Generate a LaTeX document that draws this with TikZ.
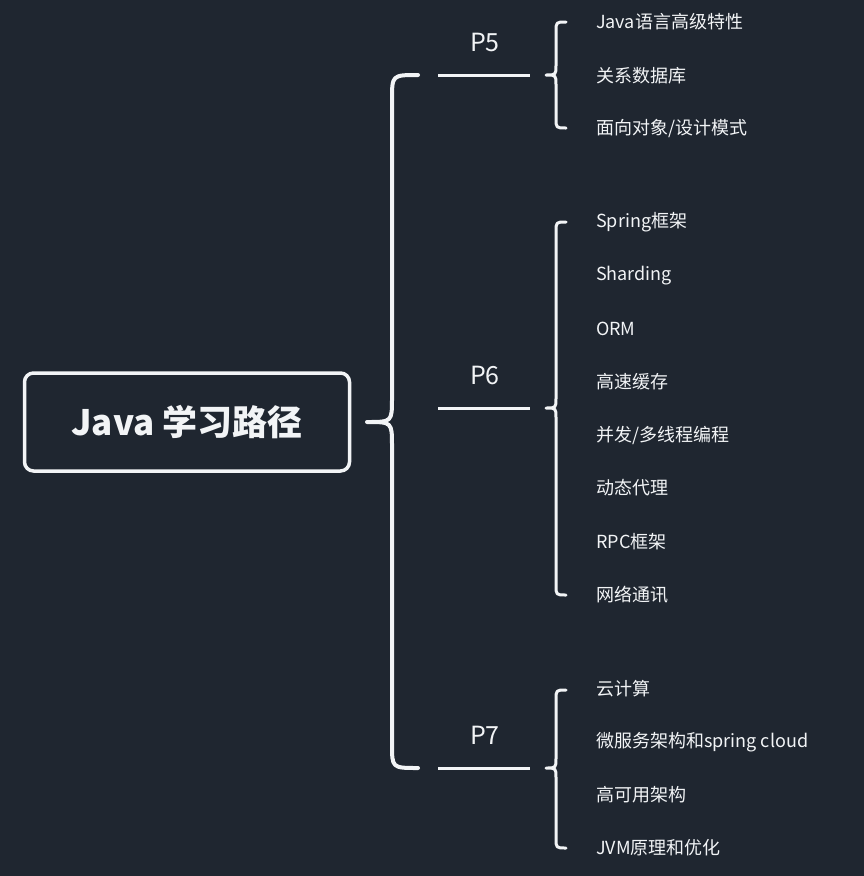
\documentclass[tikz,border=0pt]{standalone}
\usepackage{fontspec}
\setmainfont{Noto Sans CJK SC}
\definecolor{bg}{HTML}{1F2630}
\definecolor{fg}{HTML}{F2F4F6}
\newcommand{\mybrace}[5]{% x, top, bottom, tipy, width
  \draw[brc] ({#1+#5},#2) .. controls (#1,#2) .. (#1,{#2+#5}) -- (#1,{#4-#5}) .. controls (#1,#4) .. ({#1-#5},#4)
   .. controls (#1,#4) .. (#1,{#4+#5}) -- (#1,{#3-#5}) .. controls (#1,#3) .. ({#1+#5},#3);}
\begin{document}
\begin{tikzpicture}[x=1pt,y=-1pt,
  brc/.style={fg,line width=3pt,line cap=round,line join=round},
  item/.style={anchor=west,text=fg,font=\fontsize{18}{20}\selectfont,inner sep=0pt},
  lvl/.style={text=fg,font=\fontsize{25}{28}\selectfont,inner sep=0pt},
  bar/.style={fg,line width=3pt}]
\fill[bg] (0,0) rectangle (864,876);
\useasboundingbox (0,0) rectangle (864,876);
\node[draw=fg,line width=3.5pt,rounded corners=9pt,minimum width=325pt,minimum height=98pt,text=fg,font=\fontsize{35}{38}\selectfont] (root) at (187,422) {\textbf{Java 学习路径}};
\draw[brc,line width=4pt] (418,75) .. controls (392,75) .. (392,100) -- (392,398) .. controls (392,422) .. (367,422) .. controls (392,422) .. (392,446) -- (392,744) .. controls (392,768) .. (418,768);
\foreach \n/\y/\t in {a/75/P5,b/408/P6,c/768/P7}{
  \coordinate (\n1) at (438,\y); \coordinate (\n2) at (530,\y);
  \draw[bar] (\n1) -- (\n2);
  \node[lvl] (l\n) at (485,{\y-33}) {\t};}
\mybrace{556}{22}{128}{75}{10}
\mybrace{556}{222}{595}{408}{10}
\mybrace{556}{690}{848}{768}{10}
\foreach \i/\y/\t in {1/22/Java语言高级特性,2/76/关系数据库,3/129/{面向对象/设计模式},
 4/222/Spring框架,5/276/Sharding,6/329/ORM,7/382/高速缓存,8/435/{并发/多线程编程},9/488/动态代理,10/542/RPC框架,11/595/网络通讯,
 12/689/云计算,13/742/微服务架构和spring cloud,14/795/高可用架构,15/848/JVM原理和优化}
  \node[item] (i\i) at (596,\y) {\t};
\end{tikzpicture}
\end{document}
